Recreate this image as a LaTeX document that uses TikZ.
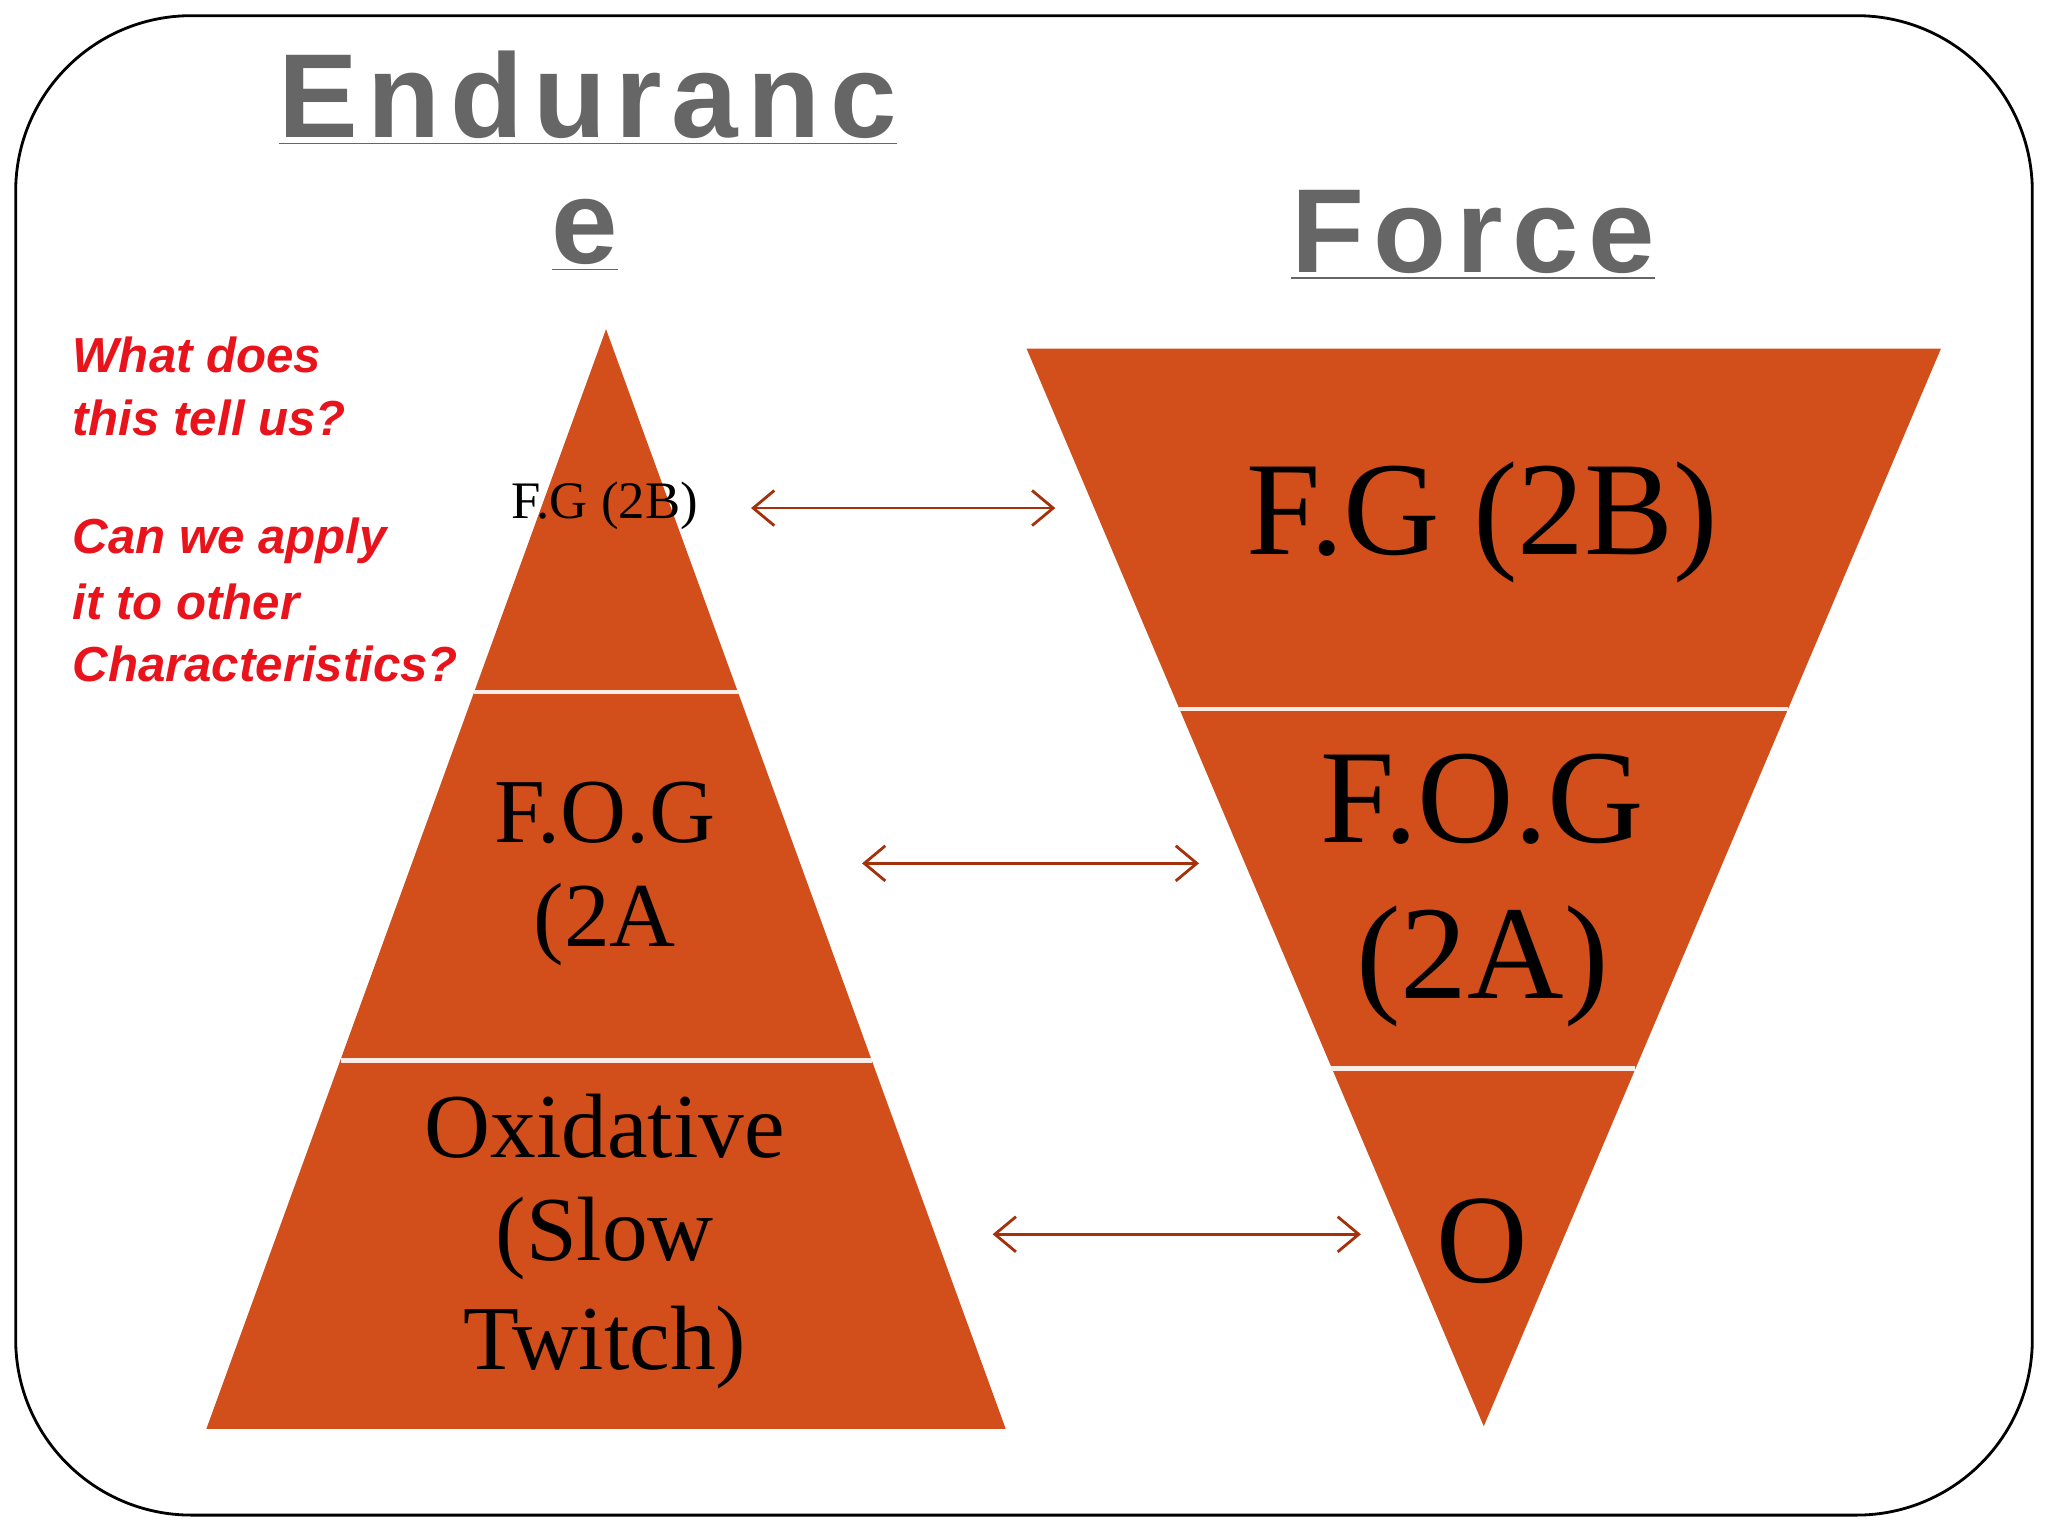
\documentclass[tikz,border=0pt]{standalone}
\usepackage{fontspec}
\setmainfont{Liberation Serif}
\setsansfont{Liberation Sans}
\newfontfamily\titlefont[LetterSpace=8]{Liberation Sans}
\usetikzlibrary{arrows.meta}
\definecolor{org}{HTML}{D24F1C}
\definecolor{arr}{HTML}{A3320C}
\definecolor{ttl}{HTML}{666666}
\definecolor{qred}{HTML}{E8131B}
\tikzset{
 tri/.style={fill=org,draw=none},
 sep/.style={draw=white!90!org,line width=1.2pt},
 ttl/.style={text=ttl,font=\titlefont\bfseries\fontsize{34}{34}\selectfont},
 q/.style={text=qred,font=\sffamily\bfseries\itshape\fontsize{14}{14}\selectfont,anchor=west},
 lbl/.style={font=\fontsize{#1}{#1}\selectfont},
 biarr/.style={draw=arr,line width=0.8pt,{Straight Barb[length=6pt,width=10pt]}-{Straight Barb[length=6pt,width=10pt]}}
}
\begin{document}
\begin{tikzpicture}[x=0.013061cm,y=-0.013061cm]
\useasboundingbox (0,0) rectangle (1568,1176);
\draw[line width=0.8pt,rounded corners=50] (12,12) rectangle (1556,1160);
% left pyramid
\fill[tri] (464,252) -- (770,1094) -- (158,1094) -- cycle;
\draw[sep] (363,530) -- (566,530);
\draw[sep] (261,812) -- (668,812);
% right inverted
\fill[tri] (786,267) -- (1486,267) -- (1136,1092) -- cycle;
\draw[sep] (903,543) -- (1369,543);
\draw[sep] (1019,818) -- (1252,818);
% titles
\node[ttl] (t1) at (450,75) {\underline{Enduranc}};
\node[ttl] (t2) at (448,180) {\underline{e}};
\node[ttl] (t3) at (1128,180) {\underline{Force}};
% questions
\node[q] (q1) at (46,272) {What does};
\node[q] (q2) at (46,320) {this tell us?};
\node[q] (q3) at (46,414) {Can we apply};
\node[q] (q4) at (46,461) {it to other};
\node[q] (q5) at (46,508) {Characteristics?};
% left labels
\node[lbl=15] (l1) at (463,387) {F.G (2B)};
\node[lbl=26] (l2) at (463,622) {F.O.G};
\node[lbl=26] (l3) at (463,708) {(2A};
\node[lbl=26] (l4) at (463,862) {Oxidative};
\node[lbl=26] (l5) at (463,948) {(Slow};
\node[lbl=26] (l6) at (463,1032) {Twitch)};
% right labels
\node[lbl=38] (r1) at (1135,400) {F.G (2B)};
\node[lbl=38] (r2) at (1135,612) {F.O.G};
\node[lbl=38] (r3) at (1135,740) {(2A)};
\node[lbl=36] (r4) at (1135,950) {O};
% arrows
\coordinate (a1) at (575,389); \coordinate (b1) at (808,389);
\coordinate (a2) at (660,661); \coordinate (b2) at (918,661);
\coordinate (a3) at (760,945); \coordinate (b3) at (1042,945);
\draw[biarr] (a1) -- (b1);
\draw[biarr] (a2) -- (b2);
\draw[biarr] (a3) -- (b3);
\end{tikzpicture}
\end{document}
